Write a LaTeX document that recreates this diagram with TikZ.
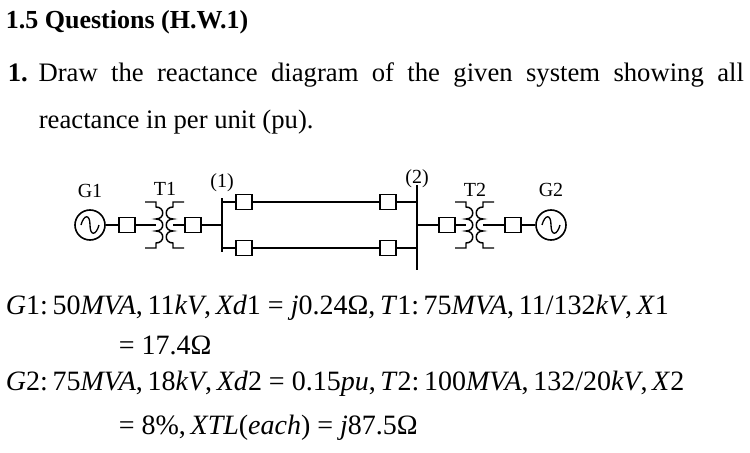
\documentclass[tikz,border=0pt]{standalone}
\usepackage{fontspec}
\setmainfont{Liberation Serif}
\begin{document}
\begin{tikzpicture}[x=0.75pt,y=-0.75pt,line width=1.3pt,
  brk/.style={draw,minimum width=12pt,minimum height=11pt,inner sep=0pt,line width=1.2pt},
  gen/.style={draw,circle,minimum size=22.5pt,inner sep=0pt,line width=1.2pt},
  lbl/.style={font=\fontsize{15}{16}\selectfont,inner sep=0pt},
  eq/.style={anchor=west,inner sep=0pt,font=\fontsize{21}{23}\selectfont}]
\useasboundingbox (0,0) rectangle (750,453);
% text
\node[anchor=west,inner sep=0pt,font=\fontsize{19.5}{21}\selectfont\bfseries] (title) at (5,22) {1.5 Questions (H.W.1)};
\node[anchor=west,inner sep=0pt,font=\fontsize{20}{22}\selectfont] (q1) at (7,75) {\textbf{1.}\hspace{8pt}\makebox[529pt][s]{Draw the reactance diagram of the given system showing all}};
\node[anchor=west,inner sep=0pt,font=\fontsize{20}{22}\selectfont] (q2) at (38,122) {reactance in per unit (pu).};
\node[eq] (e1) at (5,308) {\textit{G}1:\,50\textit{MVA},\,11\textit{kV},\,\textit{Xd}1 = \textit{j}0.24Ω,\,\textit{T}1:\,75\textit{MVA},\,11/132\textit{kV},\,\textit{X}1};
\node[eq] (e2) at (118,345) {= 17.4Ω};
\node[eq] (e3) at (5,384) {\textit{G}2:\,75\textit{MVA},\,18\textit{kV},\,\textit{Xd}2 = 0.15\textit{pu},\,\textit{T}2:\,100\textit{MVA},\,132/20\textit{kV},\,\textit{X}2};
\node[eq] (e4) at (118,428) {= 8\%,\,\textit{XTL}(\textit{each}) = \textit{j}87.5Ω};
% diagram
\node[gen] (g1) at (90,225) {};
\draw[line width=1pt] (81,225) .. controls (84,214) and (90,214) .. (90,225) .. controls (90,236) and (96,236) .. (99,225);
\node[gen] (g2) at (551,225) {};
\draw[line width=1pt] (542,225) .. controls (545,214) and (551,214) .. (551,225) .. controls (551,236) and (557,236) .. (560,225);
\node[brk] (b1) at (127,225) {};
\node[brk] (b2) at (193,225) {};
\node[brk] (b3) at (244,202) {};
\node[brk] (b4) at (244,248) {};
\node[brk] (b5) at (388,202) {};
\node[brk] (b6) at (388,248) {};
\node[brk] (b7) at (447,225) {};
\node[brk] (b8) at (513,225) {};
\coordinate (p1) at (156,225); \coordinate (s1) at (173,225);
\coordinate (p2) at (466,225); \coordinate (s2) at (483,225);
\coordinate (bus1t) at (222,198); \coordinate (bus1b) at (222,252);
\coordinate (bus2t) at (417,185); \coordinate (bus2b) at (417,270);
\draw (bus1t) -- (bus1b);
\draw (bus2t) -- (bus2b);
\draw (g1) -- (b1) -- (p1);
\draw (s1) -- (b2) -- (222,225);
\draw (222,202) -- (b3) -- (b5) -- (417,202);
\draw (222,248) -- (b4) -- (b6) -- (417,248);
\draw (417,225) -- (b7) -- (p2);
\draw (s2) -- (b8) -- (g2);
% coils
\foreach \x/\d in {156/1,173/-1,466/1,483/-1}{
  \draw[line width=1.1pt] (\x-\d*11,202) -- (\x,202) -- (\x,207)
    .. controls (\x+\d*9,207) and (\x+\d*9,219) .. (\x,219)
    .. controls (\x+\d*9,219) and (\x+\d*9,231) .. (\x,231)
    .. controls (\x+\d*9,231) and (\x+\d*9,243) .. (\x,243)
    -- (\x,248) -- (\x-\d*11,248);
}
\node[lbl] (lg1) at (90,191) {G1};
\node[lbl] (lt1) at (165,189) {T1};
\node[lbl] (l1) at (222,183) {(1)};
\node[lbl] (l2) at (417,179) {(2)};
\node[lbl] (lt2) at (475,190) {T2};
\node[lbl] (lg2) at (551,190) {G2};
\end{tikzpicture}
\end{document}
